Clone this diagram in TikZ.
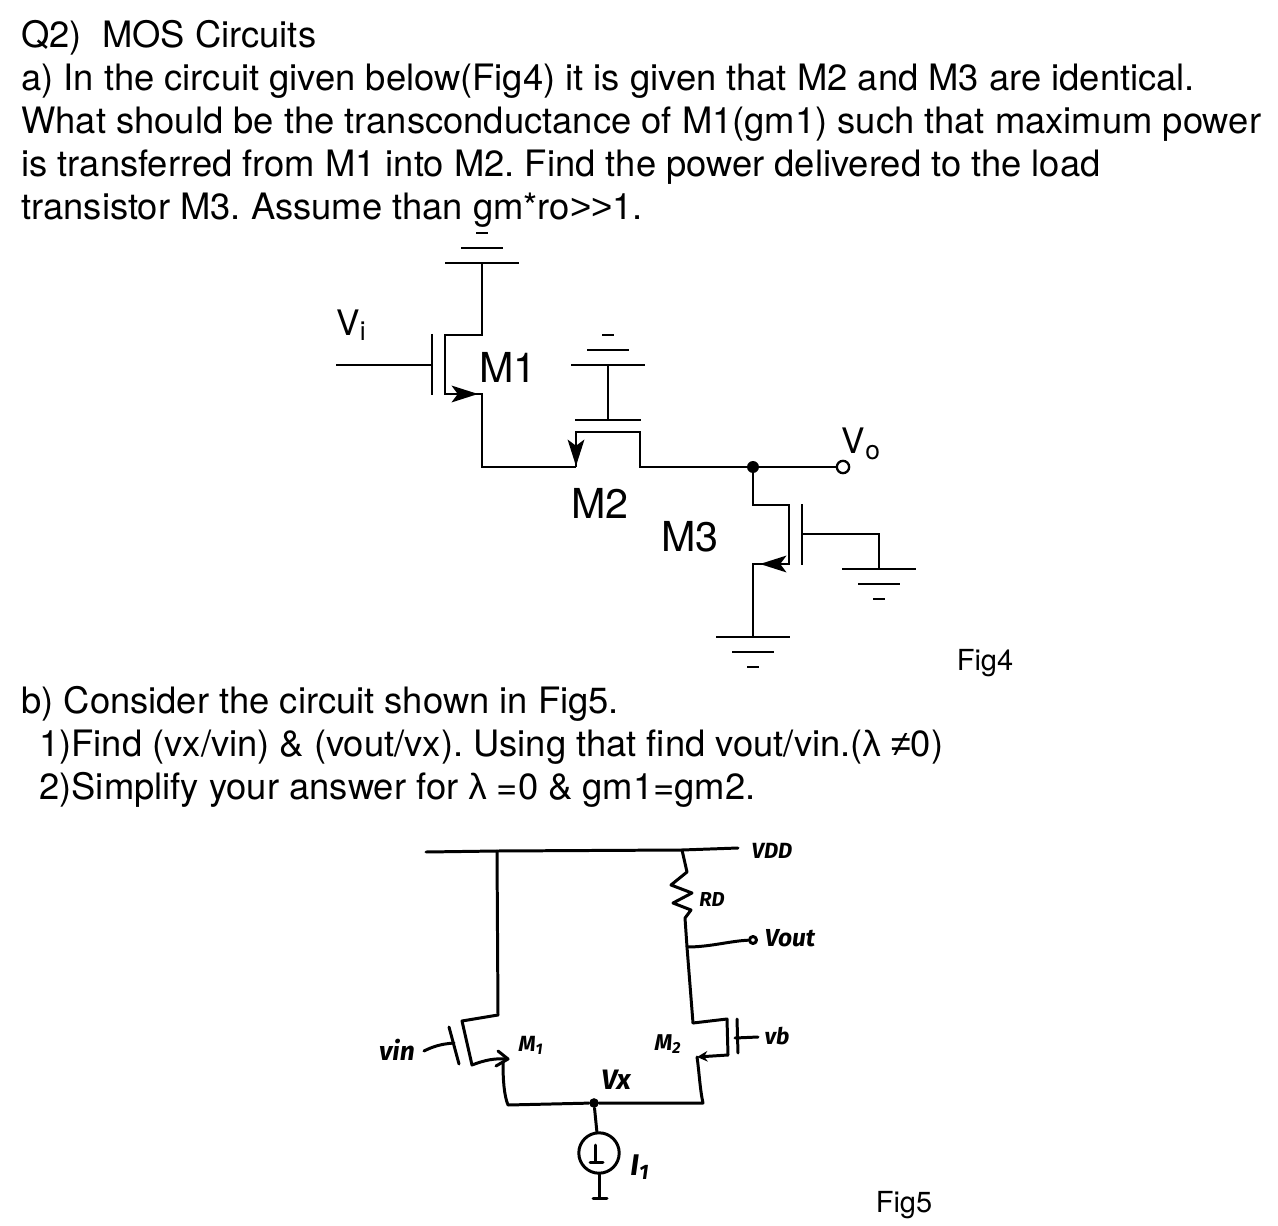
\documentclass[tikz,border=0pt]{standalone}
\usepackage{fontspec}
\setmainfont{TeX Gyre Heros}
\newfontfamily\symfont{Liberation Sans}
\newfontfamily\handfont{Fira Sans}
\usepackage{tikz}
\usetikzlibrary{arrows.meta}

\tikzset{
  wire/.style={line width=1.3pt, line join=miter},
  hand/.style={line width=1.7pt, line cap=round, line join=round},
  para/.style={anchor=base west, inner sep=0, font=\fontsize{20.7}{24}\selectfont},
  small/.style={inner sep=0, font=\fontsize{16.5}{20}\selectfont},
  mos/.style={inner sep=0, font=\fontsize{23.5}{26}\selectfont},
  volt/.style={inner sep=0, font=\fontsize{20}{24}\selectfont},
  scrawl/.style={inner sep=0, font=\handfont\itshape\bfseries\fontsize{#1}{#1}\selectfont},
  tip/.style={-{Stealth[length=15pt, width=9.5pt, inset=3.5pt]}, line width=1.3pt},
  dot/.style={circle, fill=black, inner sep=0, minimum size=#1},
  pics/gnd/.style={code={
    \draw[wire] (-37,0) -- (37,0);
    \draw[wire] (-21,15) -- (21,15);
    \draw[line width=1.4pt] (-6,30) -- (6,30);
  }}
}

\begin{document}
\frenchspacing
\begin{tikzpicture}[x=0.02cm, y=-0.02cm]
\useasboundingbox (0,0) rectangle (1278,1226);

% text %
\node[para] (q2) at (21,48) {Q2)\ \ MOS Circuits};
\node[para] (a1) at (21,91) {a) In the circuit given below(Fig4) it is given that M2 and M3 are identical.};
\node[para] (a2) at (21,134) {What should be the transconductance of M1(gm1) such that maximum power};
\node[para] (a3) at (21,177) {is transferred from M1 into M2. Find the power delivered to the load};
\node[para] (a4) at (21,220) {transistor M3. Assume than gm*ro{\symfont>{}>}1.};
\node[para] (b0) at (21,713) {b) Consider the circuit shown in Fig5.};
\node[para] (b1) at (39,756) {1)Find (vx/vin) \& (vout/vx). Using that find vout/vin.({\symfont λ ≠}0)};
\node[para] (b2) at (39,799) {2)Simplify your answer for {\symfont λ} =0 \& gm1=gm2.};
\node[small] (fig4) at (985,663) {Fig4};
\node[small] (fig5) at (904,1205) {Fig5};

% Fig4 nodes %
\node[mos] (m1lab) at (508,367) {M1};
\node[mos] (m2lab) at (600,503) {M2};
\node[mos] (m3lab) at (690,537) {M3};
\node[volt] (vi) at (351,325) {V\raisebox{-3pt}{\fontsize{15}{15}\selectfont i}};
\node[volt] (vo) at (861,444) {V\raisebox{-3pt}{\fontsize{15}{15}\selectfont o}};
\node[dot=6.8pt] (vonode) at (753,467) {};
\node[draw, circle, wire, inner sep=0, minimum size=7pt, fill=white] (voend) at (843,467) {};

\coordinate (g1) at (482,263);
\coordinate (m1d) at (445,335);
\coordinate (m1s) at (445,394);
\coordinate (m1t) at (482,394);
\coordinate (g2) at (608,365);
\coordinate (m2s) at (576,467);
\coordinate (m2d) at (640,432);
\coordinate (m3d) at (789,505);
\coordinate (m3s) at (789,564);
\coordinate (g3) at (753,637);
\coordinate (g4) at (879,569);

\pic[yscale=-1] at (g1) {gnd};
\pic[yscale=-1] at (g2) {gnd};
\pic at (g3) {gnd};
\pic at (g4) {gnd};

% Fig4 edges %

%M1%
\draw[wire] (g1) |- (m1d) -- (m1s) -- (m1t) |- (m2s);
\draw[wire] (432,334) coordinate (m1ga) -- (432,395) coordinate (m1gb);
\draw[wire] (336,365) coordinate (vin1) -- (m1ga |- vin1);
\draw[tip] (m1s) -- (478,394);

%M2%
\draw[wire] (m2s) |- (m2d) |- (vonode);
\draw[wire] (575,420) coordinate (m2ga) -- (641,420) coordinate (m2gb);
\draw[wire] (g2) -- (g2 |- m2ga);
\draw[tip] (m2d -| m2s) -- (576,466);

%M3%
\draw[wire] (vonode) -- (voend);
\draw[wire] (vonode) |- (m3d) -- (m3s) -| (g3);
\draw[wire] (802,504) coordinate (m3ga) -- (802,565) coordinate (m3gb);
\draw[wire] (802,534) coordinate (m3gc) -| (g4);
\draw[tip] (m3s) -- (760,564);

% Fig5 nodes %
\node[scrawl=12.5] (vdd) at (772,851) {VDD};
\node[scrawl=11.5] (rd) at (712,899) {RD};
\node[scrawl=14] (vout) at (790,938) {Vout};
\node[scrawl=13] (vb) at (777,1036) {vb};
\node[scrawl=13] (m2hand) at (668,1044) {M\textsubscript{2}};
\node[scrawl=12.5] (m1hand) at (531,1045) {M\textsubscript{1}};
\node[scrawl=16] (vx) at (616,1080) {Vx};
\node[scrawl=15] (vinlab) at (397,1050) {vin};
\node[scrawl=17] (i1) at (640,1167) {I\textsubscript{1}};

\node[dot=5.5pt] (vxnode) at (594,1103) {};
\node[draw, circle, hand, inner sep=0, minimum size=23pt] (isrc) at (599,1153) {};
\node[draw, circle, hand, inner sep=0, minimum size=4pt] (voutend) at (753,940) {};

\coordinate (railw) at (426,852);
\coordinate (raile) at (738,848);
\coordinate (railm) at (497,851);
\coordinate (railr) at (682,850);
\coordinate (m1hd) at (498,1015);
\coordinate (m1hs) at (508,1059);
\coordinate (m2hd) at (693,1023);
\coordinate (m2hs) at (697,1057);
\coordinate (rdend) at (685,918);
\coordinate (outj) at (687,947);
\coordinate (gnde) at (599,1198);

% Fig5 edges %

%rails%
\draw[hand] (railw) -- (railm) -- (railr) -- (raile);
\draw[hand] (railm) -- (m1hd);

%M1%
\draw[hand] (m1hd) -- (462,1021) -- (472,1065) .. controls (485,1060) and (495,1058) .. (m1hs);
\draw[hand] (498,1051) -- (m1hs) -- (496,1066);
\draw[hand] (449,1027) -- (459,1064);
\draw[hand] (424,1051) .. controls (432,1047) and (440,1044) .. (454,1043);
\draw[hand] (503,1062) .. controls (503,1080) and (504,1095) .. (508,1105) -- (vxnode);

%M2%
\draw[hand] (vxnode) -- (703,1103) .. controls (700,1090) and (699,1070) .. (m2hs);
\draw[hand, -{Stealth[length=6pt, width=6pt]}] (728,1055) -- (m2hs);
\draw[hand] (728,1055) -- (727,1019) -- (m2hd);
\draw[hand] (737,1019) -- (738,1053);
\draw[hand] (735,1038) -- (758,1037);

%RD%
\draw[hand] (m2hd) -- (outj) -- (rdend) -- (691,910) -- (673,903) -- (692,893) -- (671,885) -- (687,872) -- (railr);
\draw[hand] (outj) .. controls (710,947) and (730,941) .. (voutend);

%I1%
\draw[hand] (vxnode) -- (isrc);
\draw[hand] (isrc) -- (gnde);
\draw[hand] (593,1198) -- (607,1198);
\draw[hand] (595,1145) -- (595,1162);
\draw[hand] (590,1162) -- (603,1162);

\end{tikzpicture}
\end{document}
